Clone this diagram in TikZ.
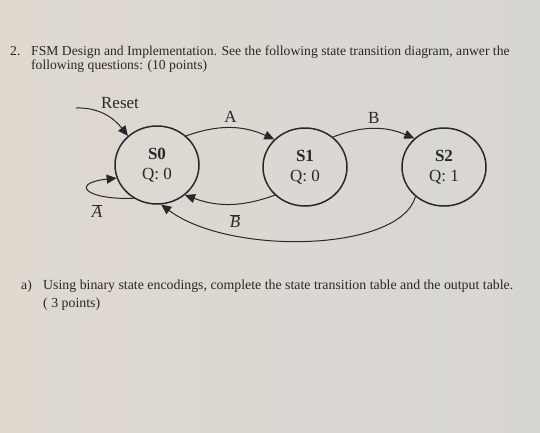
\documentclass[tikz,border=0pt]{standalone}
\usepackage{fontspec}
\setmainfont{Liberation Serif}
\usetikzlibrary{arrows.meta,shapes.geometric}
\definecolor{bgL}{RGB}{223,217,208}
\definecolor{bgR}{RGB}{216,214,211}
\definecolor{ink}{RGB}{40,40,40}
\begin{document}
\begin{tikzpicture}[x=1pt,y=1pt,
  state/.style={draw=ink, line width=1.5pt, ellipse, minimum width=84pt, minimum height=78pt,
    inner sep=0pt, align=center, text=ink, font=\fontsize{17}{20}\selectfont},
  arr/.style={draw=ink, line width=1pt, -{Triangle[length=10pt,width=9pt]}},
  lbl/.style={text=ink, font=\fontsize{17}{20}\selectfont, inner sep=0pt},
  body/.style={text=ink, font=\fontsize{13.65}{16}\selectfont, inner sep=0pt, anchor=base west}]
\shade[left color=bgL, right color=bgR] (0,-432) rectangle (540,0);
\useasboundingbox (0,-432) rectangle (540,0);

% text
\node[body] (n2) at (10,-55) {2.};
\node[body] (t1) at (31,-55) {FSM Design and Implementation. See the following state transition diagram, anwer the};
\node[body] (t2) at (31,-69) {following questions: (10 points)};
\node[body] (qa) at (21,-289) {a)};
\node[body, font=\fontsize{13.85}{16}\selectfont] (t3) at (43,-289) {Using binary state encodings, complete the state transition table and the output table.};
\node[body, font=\fontsize{13.85}{16}\selectfont] (t4) at (43,-307) {( 3 points)};

% states
\node[state] (s0) at (157,-165) {\textbf{S0}\\Q: 0};
\node[state] (s1) at (305,-167) {\textbf{S1}\\Q: 0};
\node[state] (s2) at (444,-167) {\textbf{S2}\\Q: 1};

% reset
\coordinate (r0) at (76,-108);
\node[lbl] (reset) at (120,-103) {Reset};
\draw[arr] (r0) to[out=2, in=128] (s0.135);

% transitions
\draw[arr] (s0.45) to[bend left=22] node[lbl, above=5pt] (la) {A} (s1.138);
\draw[arr] (s1.47) to[bend left=22] node[lbl, above=5pt] (lb) {B} (s2.136);
\draw[arr] (s1.223) to[bend left=20] (s0.313);
\node[lbl] (lbbar) at (235,-221) {$\overline{\mbox{\itshape B}}$};
\draw[arr] (s0.235) .. controls (85,-200) and (70,-183) .. (s0.198);
\node[lbl] (labar) at (97,-211) {$\overline{\mbox{\itshape A}}$};
\draw[arr] (s2.226) .. controls (400,-252) and (230,-256) .. (s0.276);
\end{tikzpicture}
\end{document}
